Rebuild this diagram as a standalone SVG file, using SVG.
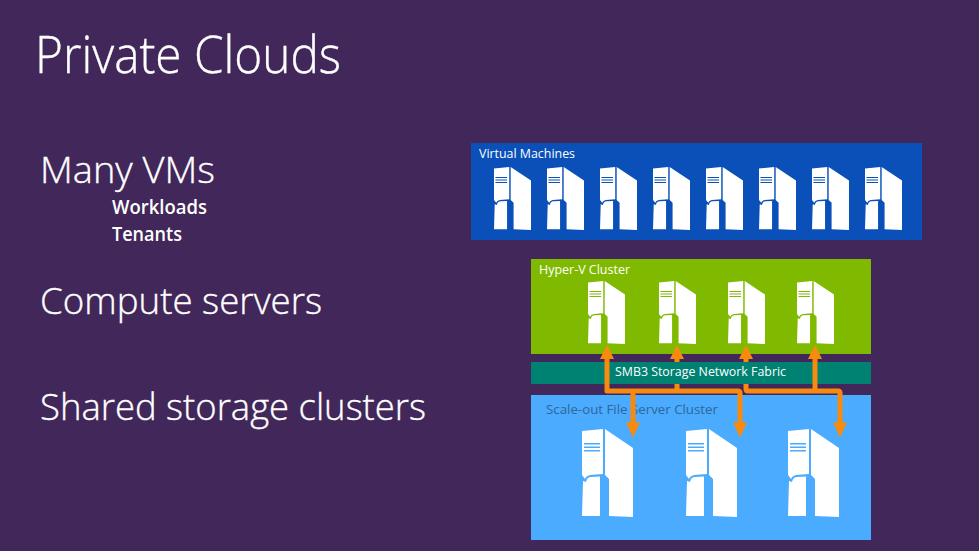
<svg xmlns="http://www.w3.org/2000/svg" width="979" height="551" viewBox="0 0 979 551">
<style>
.h{font-family:"Open Sans","Liberation Sans",sans-serif;font-weight:300;fill:#fff;stroke:#fff;stroke-width:.35}
.b{font-family:"Open Sans","Liberation Sans",sans-serif;font-weight:600;fill:#fff;font-size:20px}
.s{font-family:"Open Sans","Liberation Sans",sans-serif;font-size:12px;fill:#fff}
.c{stroke:#f78a0f;stroke-width:5;fill:none;stroke-linejoin:round}
.a{fill:#f78a0f}
</style>
<defs>
<symbol id="srv" viewBox="0 0 51 88" preserveAspectRatio="none">
<path fill="#fff" fill-rule="evenodd" d="M0 2L21 0V45L8 46Q4 47 3 50L0 46ZM2 14V15.500H18V14ZM2 17.500V19H18V17.500ZM2 21V22.500H18V21Z"/>
<path fill="#fff" d="M1 52L4 53Q5 48 9 48L18 47.500V87L0 87Z"/>
<path fill="#fff" d="M23 0L51 19V88L27 87V50L23 46Z"/>
</symbol>
<polygon id="up" points="0,-7 7,7 -7,7"/>
<polygon id="dn" points="-7,-7.500 7,-7.500 0,7.500"/>
</defs>
<rect width="979" height="551" fill="#42275a"/>
<g id="headings">
<text class="h" x="35" y="73" font-size="52" textLength="306" lengthAdjust="spacingAndGlyphs">Private Clouds</text>
<text class="h" x="40" y="183" font-size="37" textLength="175" lengthAdjust="spacingAndGlyphs">Many VMs</text>
<text class="b" x="112" y="214" textLength="95" lengthAdjust="spacingAndGlyphs">Workloads</text>
<text class="b" x="112" y="241" textLength="70" lengthAdjust="spacingAndGlyphs">Tenants</text>
<text class="h" x="40" y="314" font-size="37" textLength="282" lengthAdjust="spacingAndGlyphs">Compute servers</text>
<text class="h" x="40" y="420" font-size="37" textLength="386" lengthAdjust="spacingAndGlyphs">Shared storage clusters</text>
</g>
<g id="vm-tier">
<rect x="471" y="143" width="451" height="97" fill="#0a50b8"/>
<text class="s" x="479" y="158" textLength="96" lengthAdjust="spacingAndGlyphs">Virtual Machines</text>
<use href="#srv" x="494" y="167" width="37" height="63"/>
<use href="#srv" x="547" y="167" width="37" height="63"/>
<use href="#srv" x="600" y="167" width="37" height="63"/>
<use href="#srv" x="653" y="167" width="37" height="63"/>
<use href="#srv" x="706" y="167" width="37" height="63"/>
<use href="#srv" x="759" y="167" width="37" height="63"/>
<use href="#srv" x="812" y="167" width="37" height="63"/>
<use href="#srv" x="865" y="167" width="37" height="63"/>
</g>
<g id="hyperv-tier">
<rect x="531" y="259" width="340" height="95" fill="#7fba00"/>
<text class="s" x="539" y="274" textLength="91" lengthAdjust="spacingAndGlyphs">Hyper-V Cluster</text>
<use href="#srv" x="588" y="281" width="37" height="63"/>
<use href="#srv" x="659" y="281" width="37" height="63"/>
<use href="#srv" x="728" y="281" width="37" height="63"/>
<use href="#srv" x="797" y="281" width="37" height="63"/>
</g>
<g id="fabric">
<rect x="531" y="362" width="340" height="22" fill="#008272"/>
</g>
<g id="storage-tier">
<rect x="531" y="395" width="340" height="145" fill="#4aabff"/>
<text class="s" x="546" y="414" style="fill:#2f6796" textLength="172" lengthAdjust="spacingAndGlyphs">Scale-out File Server Cluster</text>
<use href="#srv" x="582" y="429" width="51" height="88"/>
<use href="#srv" x="686" y="429" width="51" height="88"/>
<use href="#srv" x="788" y="429" width="51" height="88"/>
</g>
<g id="connectors">
<path class="c" d="M607 356V391H738Q740 391 740 393V425"/>
<path class="c" d="M677 356V362M677 384V391"/>
<path class="c" d="M746 356V362M746 384V389Q746 391 748 391H838Q840 391 840 393V425"/>
<path class="c" d="M815 356V391"/>
<path class="c" d="M633 391V425"/>
<use href="#up" class="a" x="607" y="352"/>
<use href="#up" class="a" x="677" y="352"/>
<use href="#up" class="a" x="746" y="352"/>
<use href="#up" class="a" x="815" y="352"/>
<use href="#dn" class="a" x="633" y="430"/>
<use href="#dn" class="a" x="740" y="430"/>
<use href="#dn" class="a" x="840" y="430"/>
</g>
<text class="s" x="615" y="376" textLength="171" lengthAdjust="spacingAndGlyphs">SMB3 Storage Network Fabric</text>
</svg>
